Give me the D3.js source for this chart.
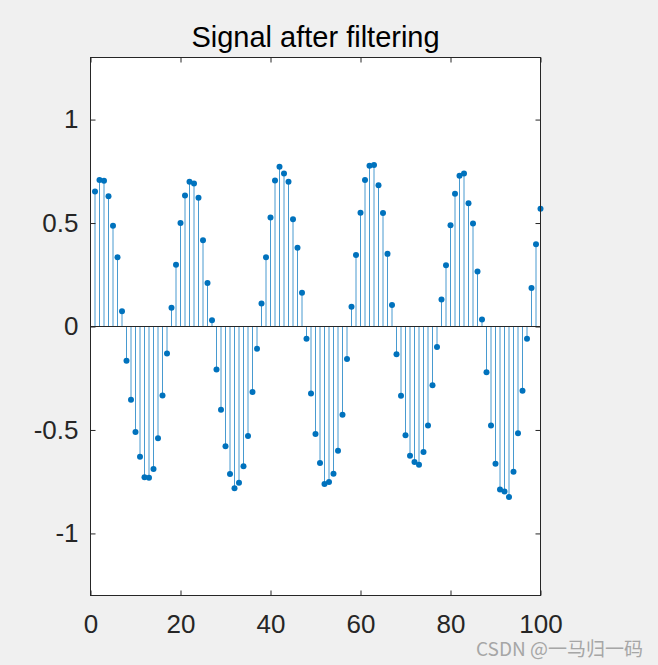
<!DOCTYPE html>
<html>
<head>
<meta charset="utf-8">
<script src="https://cdn.jsdelivr.net/npm/d3@7"></script>
<style>
  html, body { margin: 0; padding: 0; background: #f0f0f0; }
  svg { display: block; }
</style>
</head>
<body>
<div id="chart"></div>
<script>
// samples n = 1..100 of the filtered signal
const sampleIndex = d3.range(1, 101);
const filteredValues = [
  0.652, 0.708, 0.704, 0.630, 0.487, 0.335, 0.074, -0.165, -0.354, -0.510,
  -0.630, -0.728, -0.731, -0.689, -0.540, -0.333, -0.130, 0.091, 0.298, 0.500,
  0.633, 0.700, 0.691, 0.622, 0.417, 0.210, 0.030, -0.208, -0.402, -0.579,
  -0.713, -0.782, -0.755, -0.675, -0.529, -0.316, -0.107, 0.111, 0.335, 0.527,
  0.705, 0.772, 0.739, 0.700, 0.518, 0.381, 0.163, -0.059, -0.324, -0.519,
  -0.660, -0.761, -0.752, -0.712, -0.601, -0.426, -0.157, 0.096, 0.346, 0.550,
  0.708, 0.777, 0.780, 0.683, 0.548, 0.351, 0.104, -0.134, -0.335, -0.526,
  -0.625, -0.655, -0.668, -0.607, -0.479, -0.284, -0.099, 0.131, 0.296, 0.489,
  0.641, 0.728, 0.739, 0.596, 0.498, 0.266, 0.034, -0.221, -0.479, -0.663,
  -0.788, -0.798, -0.824, -0.702, -0.516, -0.311, -0.059, 0.186, 0.397, 0.569
];
const xTicks = [0, 20, 40, 60, 80, 100];
const yTicks = [-1, -0.5, 0, 0.5, 1];

const width = 658, height = 665;
const plotLeft = 90.5, plotRight = 540.5, plotTop = 57.5, plotBottom = 595.5;
const tickColor = "#262626";
const stemColor = "#0072BD";

const svg = d3.select("#chart").append("svg")
  .attr("width", width)
  .attr("height", height);

svg.append("rect")
  .attr("width", width).attr("height", height)
  .attr("fill", "#f0f0f0");

const x = d3.scaleLinear().domain([0, 100]).range([plotLeft, plotRight]);
const y = d3.scaleLinear().domain([-1.3, 1.3]).range([plotBottom, plotTop]);

svg.append("rect")
  .attr("x", plotLeft).attr("y", plotTop)
  .attr("width", plotRight - plotLeft).attr("height", plotBottom - plotTop)
  .attr("fill", "white");

const data = sampleIndex.map((n, i) => ({ n, v: filteredValues[i] }));

// stems
svg.append("g")
  .selectAll("line")
  .data(data)
  .join("line")
  .attr("x1", d => x(d.n)).attr("x2", d => x(d.n))
  .attr("y1", y(0)).attr("y2", d => y(d.v))
  .attr("stroke", stemColor)
  .attr("stroke-opacity", 0.8)
  .attr("stroke-width", 0.9);

// baseline
svg.append("line")
  .attr("x1", plotLeft).attr("x2", plotRight)
  .attr("y1", y(0)).attr("y2", y(0))
  .attr("stroke", tickColor)
  .attr("stroke-width", 1);

// markers
svg.append("g")
  .selectAll("circle")
  .data(data)
  .join("circle")
  .attr("cx", d => x(d.n))
  .attr("cy", d => y(d.v))
  .attr("r", 3)
  .attr("fill", stemColor);

const fmt = d => String(d);
const font = "'Liberation Sans', Arial, Helvetica, sans-serif";

function styleAxis(g) {
  g.select(".domain").remove();
  g.selectAll(".tick line").attr("stroke", tickColor);
  g.selectAll(".tick text")
    .attr("fill", tickColor)
    .attr("font-size", "26px")
    .attr("font-family", font);
}

svg.append("g")
  .attr("transform", `translate(0,${plotBottom})`)
  .call(d3.axisBottom(x).tickValues(xTicks).tickFormat(fmt)
    .tickSizeInner(-5).tickSizeOuter(0).tickPadding(19))
  .call(styleAxis);

svg.append("g")
  .attr("transform", `translate(0,${plotTop})`)
  .call(d3.axisTop(x).tickValues(xTicks).tickFormat("")
    .tickSizeInner(-5).tickSizeOuter(0))
  .call(styleAxis);

svg.append("g")
  .attr("transform", `translate(${plotLeft},0)`)
  .call(d3.axisLeft(y).tickValues(yTicks).tickFormat(fmt)
    .tickSizeInner(-5).tickSizeOuter(0).tickPadding(12))
  .call(styleAxis);

svg.append("g")
  .attr("transform", `translate(${plotRight},0)`)
  .call(d3.axisRight(y).tickValues(yTicks).tickFormat("")
    .tickSizeInner(-5).tickSizeOuter(0))
  .call(styleAxis);

// box
svg.append("rect")
  .attr("x", plotLeft).attr("y", plotTop)
  .attr("width", plotRight - plotLeft).attr("height", plotBottom - plotTop)
  .attr("fill", "none")
  .attr("stroke", tickColor)
  .attr("stroke-width", 1);

svg.append("text")
  .attr("x", (plotLeft + plotRight) / 2)
  .attr("y", 47)
  .attr("text-anchor", "middle")
  .attr("font-family", font)
  .attr("font-size", "29px")
  .attr("fill", "#000")
  .text("Signal after filtering");

svg.append("text")
  .attr("x", 643)
  .attr("y", 656)
  .attr("text-anchor", "end")
  .attr("font-family", "'Noto Sans CJK SC', 'Noto Sans', sans-serif")
  .attr("font-size", "19px")
  .attr("fill", "#a6a6a6")
  .text("CSDN @一马归一码");
</script>
</body>
</html>
